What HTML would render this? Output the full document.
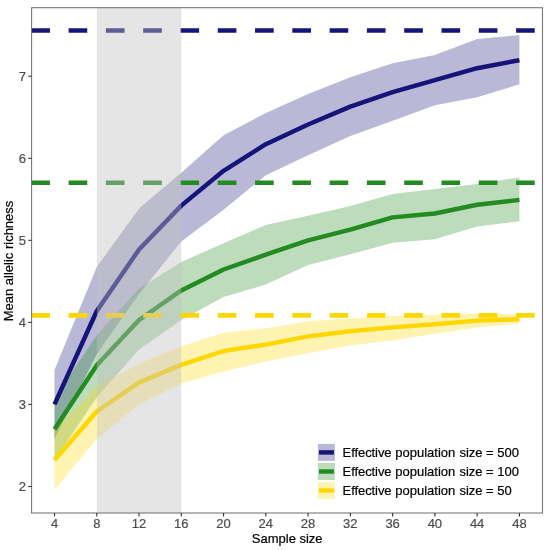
<!DOCTYPE html>
<html lang="en"><head><meta charset="utf-8"><title>Mean allelic richness vs sample size</title>
<style>html,body{margin:0;padding:0;background:#fff}body{width:548px;height:550px;overflow:hidden}svg{display:block}text{font-family:"Liberation Sans",Arial,Helvetica,sans-serif}</style></head><body>
<svg width="548" height="550" viewBox="0 0 548 550">
<rect x="0" y="0" width="548" height="550" fill="#ffffff"/>
<g stroke="none" fill-opacity="0.3">
<polygon fill="#161478" points="54.5,370.1 96.76,267 139.03,208.5 181.29,172.8 223.55,135.2 265.82,113.1 308.08,93.9 350.35,77.3 392.61,63.2 434.87,55.1 477.14,39.1 519.4,35.1 519.4,84.3 477.14,97.3 434.87,105.3 392.61,120.7 350.35,136 308.08,155.2 265.82,175.3 223.55,209.7 181.29,241.5 139.03,294 96.76,354 54.5,438.7"/>
<polygon fill="#228B22" points="54.5,398.2 96.76,335.2 139.03,288.5 181.29,261.9 223.55,243.3 265.82,225 308.08,215.8 350.35,206 392.61,193.9 434.87,189 477.14,183.9 519.4,177.4 519.4,221.2 477.14,226.6 434.87,239.3 392.61,242.8 350.35,254.2 308.08,265.1 265.82,284.6 223.55,297 181.29,319.9 139.03,349.5 96.76,397.2 54.5,460.2"/>
<polygon fill="#FFD700" points="54.5,430 96.76,386.3 139.03,363.8 181.29,346.3 223.55,332.8 265.82,328.2 308.08,321.2 350.35,318.6 392.61,316 434.87,314.7 477.14,313.6 519.4,314 519.4,323.5 477.14,327.5 434.87,333.7 392.61,340.5 350.35,345.5 308.08,353.3 265.82,361.5 223.55,371.5 181.29,383.5 139.03,404.5 96.76,439 54.5,490"/>
</g>
<g fill="none" stroke-width="4.45" stroke-linejoin="round" stroke-linecap="butt">
<polyline stroke="#161478" points="54.5,404.4 96.76,311 139.03,249.5 181.29,205.6 223.55,170.8 265.82,144.2 308.08,124.5 350.35,106.6 392.61,92.1 434.87,80.2 477.14,68.2 519.4,60.2"/>
<polyline stroke="#228B22" points="54.5,429.2 96.76,365.3 139.03,320 181.29,290.4 223.55,269.5 265.82,254.6 308.08,240.3 350.35,229.6 392.61,217.4 434.87,213.5 477.14,204.7 519.4,199.9"/>
<polyline stroke="#FFD700" points="54.5,460 96.76,411.5 139.03,382.4 181.29,364.9 223.55,351 265.82,344.6 308.08,336.4 350.35,331.3 392.61,327.4 434.87,324.2 477.14,320.6 519.4,319.2"/>
</g>
<g fill="none" stroke-width="4.6" stroke-dasharray="18.645 18.645">
<line stroke="#161478" x1="31.3" y1="30.45" x2="542.5" y2="30.45"/>
<line stroke="#228B22" x1="31.3" y1="182.8" x2="542.5" y2="182.8"/>
<line stroke="#FFD700" x1="31.3" y1="315.4" x2="542.5" y2="315.4"/>
</g>
<rect x="96.85" y="7.7" width="84.4" height="505.3" fill="rgb(194,194,194)" fill-opacity="0.42"/>
<rect x="31.6" y="7.7" width="510.9" height="505.3" fill="none" stroke="#727272" stroke-width="1.05"/>
<g stroke="#333333" stroke-width="1.1" fill="none">
<line x1="28.3" x2="31.6" y1="486.5" y2="486.5"/>
<line x1="28.3" x2="31.6" y1="404.44" y2="404.44"/>
<line x1="28.3" x2="31.6" y1="322.38" y2="322.38"/>
<line x1="28.3" x2="31.6" y1="240.32" y2="240.32"/>
<line x1="28.3" x2="31.6" y1="158.26" y2="158.26"/>
<line x1="28.3" x2="31.6" y1="76.2" y2="76.2"/>
<line x1="54.5" x2="54.5" y1="513" y2="516.4"/>
<line x1="96.76" x2="96.76" y1="513" y2="516.4"/>
<line x1="139.03" x2="139.03" y1="513" y2="516.4"/>
<line x1="181.29" x2="181.29" y1="513" y2="516.4"/>
<line x1="223.55" x2="223.55" y1="513" y2="516.4"/>
<line x1="265.82" x2="265.82" y1="513" y2="516.4"/>
<line x1="308.08" x2="308.08" y1="513" y2="516.4"/>
<line x1="350.35" x2="350.35" y1="513" y2="516.4"/>
<line x1="392.61" x2="392.61" y1="513" y2="516.4"/>
<line x1="434.87" x2="434.87" y1="513" y2="516.4"/>
<line x1="477.14" x2="477.14" y1="513" y2="516.4"/>
<line x1="519.4" x2="519.4" y1="513" y2="516.4"/>
</g>
<g fill="#4d4d4d" font-size="13px" stroke="#4d4d4d" stroke-width="0.2">
<text x="26.1" y="491.15" text-anchor="end">2</text>
<text x="26.1" y="409.09" text-anchor="end">3</text>
<text x="26.1" y="327.03" text-anchor="end">4</text>
<text x="26.1" y="244.97" text-anchor="end">5</text>
<text x="26.1" y="162.91" text-anchor="end">6</text>
<text x="26.1" y="80.85" text-anchor="end">7</text>
<text x="54.5" y="527.9" text-anchor="middle">4</text>
<text x="96.76" y="527.9" text-anchor="middle">8</text>
<text x="139.03" y="527.9" text-anchor="middle">12</text>
<text x="181.29" y="527.9" text-anchor="middle">16</text>
<text x="223.55" y="527.9" text-anchor="middle">20</text>
<text x="265.82" y="527.9" text-anchor="middle">24</text>
<text x="308.08" y="527.9" text-anchor="middle">28</text>
<text x="350.35" y="527.9" text-anchor="middle">32</text>
<text x="392.61" y="527.9" text-anchor="middle">36</text>
<text x="434.87" y="527.9" text-anchor="middle">40</text>
<text x="477.14" y="527.9" text-anchor="middle">44</text>
<text x="519.4" y="527.9" text-anchor="middle">48</text>
</g>
<text x="287.2" y="543.2" text-anchor="middle" font-size="13px" fill="#000" stroke="#000" stroke-width="0.2">Sample size</text>
<text transform="translate(13.4,261) rotate(-90)" text-anchor="middle" font-size="13px" fill="#000" stroke="#000" stroke-width="0.2">Mean allelic richness</text>
<rect x="317.9" y="443.9" width="17" height="17" fill="#161478" fill-opacity="0.3"/>
<line x1="319" x2="333.9" y1="452.4" y2="452.4" stroke="#161478" stroke-width="4.45"/>
<text y="457.1" font-size="13px" fill="#000" stroke="#000" stroke-width="0.2"><tspan x="342.6" letter-spacing="-0.08">Effective </tspan><tspan x="395.3">population </tspan><tspan x="459.4">size = 500</tspan></text>
<rect x="317.9" y="463" width="17" height="17" fill="#228B22" fill-opacity="0.3"/>
<line x1="319" x2="333.9" y1="471.5" y2="471.5" stroke="#228B22" stroke-width="4.45"/>
<text y="476.2" font-size="13px" fill="#000" stroke="#000" stroke-width="0.2"><tspan x="342.6" letter-spacing="-0.08">Effective </tspan><tspan x="395.3">population </tspan><tspan x="459.4">size = 100</tspan></text>
<rect x="317.9" y="482" width="17" height="17" fill="#FFD700" fill-opacity="0.3"/>
<line x1="319" x2="333.9" y1="490.5" y2="490.5" stroke="#FFD700" stroke-width="4.45"/>
<text y="495.2" font-size="13px" fill="#000" stroke="#000" stroke-width="0.2"><tspan x="342.6" letter-spacing="-0.08">Effective </tspan><tspan x="395.3">population </tspan><tspan x="459.4">size = 50</tspan></text>
</svg></body></html>
